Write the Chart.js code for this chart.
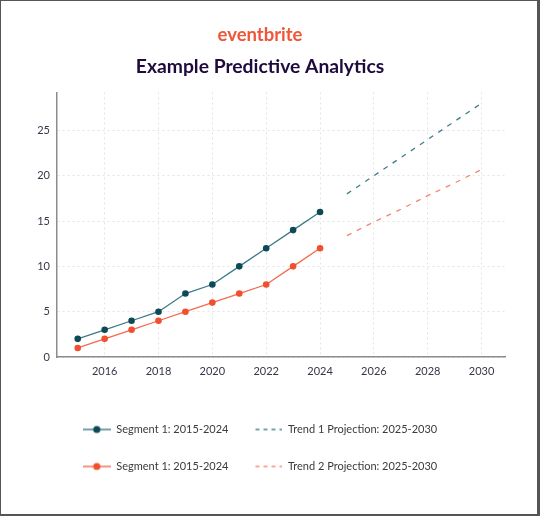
<!DOCTYPE html>
<html>
<head>
<meta charset="utf-8">
<script src="https://cdn.jsdelivr.net/npm/chart.js@4"></script>
<style>
    html, body { margin: 0; padding: 0; background: #fff; }
    .frame {
        width: 540px; height: 516px; box-sizing: border-box;
        border-style: solid; border-color: #555;
        border-width: 1px 3px 2px 1px;
        position: relative;
    }
    .frame canvas { display: block; }
</style>
</head>
<body>
<div class="frame"><canvas id="chart"></canvas></div>
<script>
// Data
const years = [2015, 2016, 2017, 2018, 2019, 2020, 2021, 2022, 2023, 2024];
const segment1 = [2, 3, 4, 5, 7, 8, 10, 12, 14, 16];
const segment2 = [1, 2, 3, 4, 5, 6, 7, 8, 10, 12];
const projYears = [2025, 2026, 2027, 2028, 2029, 2030];
const trend1 = [18, 20, 22, 24, 26, 28];
const trend2 = [13.4, 14.9, 16.3, 17.8, 19.2, 20.7];
const xTicks = [2016, 2018, 2020, 2022, 2024, 2026, 2028, 2030];
const yTicks = [0, 5, 10, 15, 20, 25];
const labels = ['Segment 1: 2015-2024', 'Trend 1 Projection: 2025-2030', 'Segment 1: 2015-2024', 'Trend 2 Projection: 2025-2030'];

const teal = '#3b7a87';
const tealDark = '#0d4a57';
const orange = '#f46a4e';
const orangeDark = '#f0502f';
const tealLight = '#3d7d89';
const orangeLight = '#f4846a';
const fontFamily = 'Lato, "Noto Sans", sans-serif';

function toPoints(xs, ys) {
    return xs.map((x, i) => ({ x: x, y: ys[i] }));
}

// small legend samples: line with a dot, or a dashed line
function sample(color, dotColor, dashed) {
    let c = document.createElement('canvas');
    c.width = 28;
    c.height = 10;
    let ctx = c.getContext('2d');
    ctx.strokeStyle = color;
    ctx.lineWidth = 1.4;
    if (dashed) ctx.setLineDash([4, 4]);
    ctx.beginPath();
    ctx.moveTo(dashed ? 1 : 0, 5);
    ctx.lineTo(28, 5);
    ctx.stroke();
    if (dotColor) {
        ctx.fillStyle = dotColor;
        ctx.beginPath();
        ctx.arc(14, 5, 3.6, 0, Math.PI * 2);
        ctx.fill();
    }
    return c;
}
const samples = [
    sample(teal, tealDark, false),
    sample(tealLight, null, true),
    sample(orange, orangeDark, false),
    sample(orangeLight, null, true)
];

const gridStyle = { color: '#e4e4e4', lineWidth: 1, drawTicks: false };

new Chart(document.getElementById('chart').getContext('2d'), {
    type: 'line',
    data: {
        datasets: [{
            label: labels[0],
            data: toPoints(years, segment1),
            borderColor: teal,
            backgroundColor: tealDark,
            pointBackgroundColor: tealDark,
            pointBorderWidth: 0,
            pointRadius: 3.3,
            borderWidth: 1.3,
        }, {
            label: labels[1],
            data: toPoints(projYears, trend1),
            borderColor: tealLight,
            borderDash: [5, 6],
            pointRadius: 0,
            borderWidth: 1.3,
        }, {
            label: labels[2],
            data: toPoints(years, segment2),
            borderColor: orange,
            backgroundColor: orangeDark,
            pointBackgroundColor: orangeDark,
            pointBorderWidth: 0,
            pointRadius: 3.3,
            borderWidth: 1.3,
        }, {
            label: labels[3],
            data: toPoints(projYears, trend2),
            borderColor: orangeLight,
            borderDash: [5, 6],
            pointRadius: 0,
            borderWidth: 1.3,
        }]
    },
    options: {
        responsive: true,
        maintainAspectRatio: false,
        animation: false,
        layout: { padding: { bottom: 32, right: 18 } },
        scales: {
            x: {
                type: 'linear',
                position: 'bottom',
                min: 2014.23,
                max: 2030.87,
                afterBuildTicks: s => { s.ticks = xTicks.map(v => ({ value: v })); },
                afterFit: s => { s.height = 41; },
                ticks: {
                    padding: 8,
                    color: '#3a3548',
                    font: { family: fontFamily, size: 11 },
                    callback: v => String(v)
                },
                grid: gridStyle,
                border: { color: '#8c8c8c', width: 1.5, dash: [2, 3] }
            },
            y: {
                type: 'linear',
                position: 'left',
                min: 0,
                max: 29.2,
                afterBuildTicks: s => { s.ticks = yTicks.map(v => ({ value: v })); },
                afterFit: s => { s.width = 56; },
                ticks: {
                    padding: 7,
                    color: '#3a3548',
                    font: { family: fontFamily, size: 11 },
                    callback: v => String(v)
                },
                grid: gridStyle,
                border: { color: '#8c8c8c', width: 1.5, dash: [2, 3] }
            },
            // empty right gutter
            gutter: {
                type: 'linear',
                position: 'right',
                display: true,
                afterFit: s => { s.width = 14; },
                ticks: { display: false },
                grid: { display: false },
                border: { display: false }
            }
        },
        plugins: {
            title: {
                display: true,
                text: 'eventbrite',
                color: '#f05537',
                font: { family: fontFamily, size: 18.5, weight: '700' },
                padding: { top: 23, bottom: 2 }
            },
            subtitle: {
                display: true,
                text: 'Example Predictive Analytics',
                color: '#1e0a3c',
                font: { family: fontFamily, size: 19.3, weight: '700' },
                padding: { top: 7, bottom: 14 }
            },
            legend: {
                position: 'bottom',
                labels: {
                    usePointStyle: true,
                    pointStyleWidth: 28,
                    padding: 26,
                    color: '#3b3b3b',
                    font: { family: fontFamily, size: 11 },
                    generateLabels: chart => {
                        let items = Chart.defaults.plugins.legend.labels.generateLabels(chart);
                        items.forEach((item, i) => { item.pointStyle = samples[i]; });
                        return items;
                    }
                }
            },
            tooltip: { enabled: false }
        }
    }
});
</script>
</body>
</html>
